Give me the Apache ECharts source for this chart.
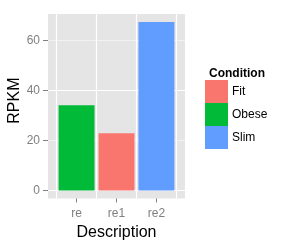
<!DOCTYPE html>
<html><head><meta charset="utf-8">
<script src="https://cdn.jsdelivr.net/npm/echarts@6/dist/echarts.min.js"></script>
<style>html,body{margin:0;padding:0;background:#fff}#c{width:285px;height:240px}</style>
</head><body><div id="c"></div>
<script>
const categories = ['re', 're1', 're2'];
const barCondition = ['Obese', 'Fit', 'Slim'];
const values = [34.1, 22.9, 67.5];
const legendOrder = ['Fit', 'Obese', 'Slim'];
const colors = { Fit: '#F8766D', Obese: '#00BA38', Slim: '#619CFF' };
const yTicks = [0, 20, 40, 60];

const FONT = 'Liberation Sans, Arial, sans-serif';
const series = legendOrder.map(cond => ({
  name: cond,
  type: 'bar',
  xAxisIndex: 2,
  yAxisIndex: 2,
  stack: 'all',
  barWidth: '90%',
  itemStyle: { color: colors[cond] },
  data: categories.map((c, i) => barCondition[i] === cond ? values[i] : null)
}));

const G = { outerBoundsMode: 'none', containLabel: false };
const chart = echarts.init(document.getElementById('c'), null, { renderer: 'canvas' });
chart.setOption({
  animation: false,
  textStyle: { fontFamily: FONT },
  title: {
    text: 'Condition', left: 204, top: 63,
    textStyle: { fontSize: 12, fontWeight: 'bold', color: '#000', fontFamily: FONT }
  },
  legend: {
    data: legendOrder, orient: 'vertical', left: 205, top: 80, padding: 0,
    itemWidth: 23, itemHeight: 23, itemGap: 0, icon: 'rect',
    textStyle: { fontSize: 12, color: '#000', fontFamily: FONT, padding: [0, 0, 0, -1] }
  },
  grid: [
    Object.assign({ left: 48, right: 100, top: 14, bottom: 41.5, show: true, backgroundColor: '#E5E5E5', borderWidth: 0 }, G),
    Object.assign({ left: 48, right: 100, top: 15.7, bottom: 49.5 }, G),
    Object.assign({ left: 56.6, right: 108.6, top: 15.7, bottom: 49.5 }, G),
    Object.assign({ left: 56.6, right: 108.6, top: 14, bottom: 41.5 }, G)
  ],
  xAxis: [
    { gridIndex: 0, type: 'value', show: false },
    { gridIndex: 1, type: 'value', show: false },
    { gridIndex: 2, type: 'category', data: categories, show: false },
    {
      gridIndex: 3, type: 'category', data: categories, position: 'bottom',
      name: 'Description', nameLocation: 'middle', nameGap: 24,
      nameTextStyle: { fontSize: 16, color: '#000', fontFamily: FONT },
      axisLine: { show: false, onZero: false },
      axisTick: { show: true, alignWithLabel: true, length: 4, lineStyle: { color: '#7F7F7F', width: 1 } },
      axisLabel: { fontSize: 12, color: '#7F7F7F', margin: 9, fontFamily: FONT },
      splitLine: { show: true, lineStyle: { color: '#FFFFFF', width: 1.2 } }
    }
  ],
  yAxis: [
    { gridIndex: 0, type: 'value', show: false },
    {
      gridIndex: 1, type: 'value', min: 0, max: 70, interval: 10,
      name: 'RPKM', nameLocation: 'middle', nameRotate: 90, nameGap: 23,
      nameTextStyle: { fontSize: 16, color: '#000', fontFamily: FONT, padding: [0, 0, 0, 5] },
      axisLine: { show: false },
      axisTick: { show: true, length: 5, lineStyle: { color: '#7F7F7F', width: 1 },
        customValues: yTicks },
      axisLabel: { fontSize: 12, color: '#7F7F7F', margin: 8, fontFamily: FONT,
        customValues: yTicks },
      splitLine: { show: true, lineStyle: { color: ['#FFFFFF', '#F2F2F2'], width: 1.2 } }
    },
    { gridIndex: 2, type: 'value', min: 0, max: 70, show: false },
    { gridIndex: 3, type: 'value', show: false }
  ],
  series: series
});
</script></body></html>
